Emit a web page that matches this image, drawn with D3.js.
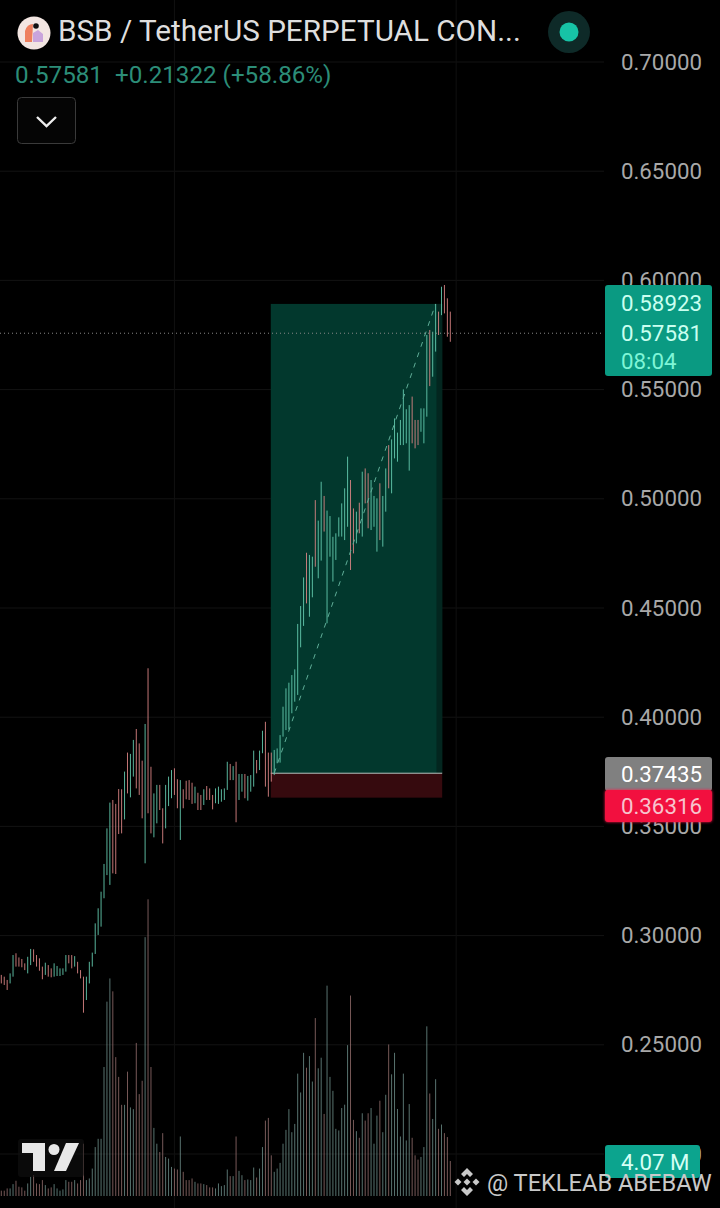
<!DOCTYPE html>
<html><head><meta charset="utf-8">
<script src="https://cdn.jsdelivr.net/npm/d3@7/dist/d3.min.js"></script>
<style>html,body{margin:0;padding:0;background:#000;overflow:hidden}svg{display:block}text{font-family:Roboto,sans-serif}</style>
</head><body><svg id="c" width="720" height="1208"></svg>
<script>
const priceTicks=[0.7,0.65,0.6,0.55,0.5,0.45,0.4,0.35,0.3,0.25,0.2];
const highs=[.2820,.2812,.2797,.2827,.2911,.2919,.2900,.2893,.2873,.2903,.2939,.2937,.2911,.2896,.2858,.2876,.2865,.2850,.2873,.2861,.2850,.2850,.2911,.2911,.2911,.2906,.2880,.2842,.2812,.2812,.2880,.2922,.3056,.3125,.3201,.3328,.3491,.3609,.3621,.3603,.3671,.3670,.3751,.3838,.3832,.3896,.3946,.3880,.3801,.3969,.4224,.3773,.3651,.3690,.3690,.3583,.3690,.3728,.3758,.3766,.3716,.3712,.3670,.3709,.3712,.3700,.3682,.3654,.3644,.3670,.3685,.3674,.3644,.3674,.3682,.3670,.3674,.3796,.3786,.3776,.3796,.3740,.3740,.3740,.3731,.3735,.3847,.3804,.3847,.3938,.3979,.3838,
.3838,.3850,.3857,.3918,.4048,.4132,.4158,.4193,.4219,.4427,.4509,.4640,.4753,.4743,.4735,.4994,.4900,.5078,.5013,.4946,.4921,.4826,.4842,.4915,.4979,.5048,.5193,.5086,.4956,.4941,.4982,.5124,.5139,.5117,.5086,.5013,.5002,.5071,.5013,.5139,.5246,.5272,.5368,.5303,.5361,.5501,.5410,.5429,.5468,.5361,.5361,.5414,.5414,.5750,.5773,.5765,.5892,.5857,.5971,.5979,.5918,.5857];
const lows=[.2781,.2774,.2751,.2781,.2812,.2858,.2858,.2855,.2842,.2827,.2865,.2880,.2858,.2839,.2800,.2820,.2812,.2809,.2812,.2815,.2815,.2820,.2835,.2873,.2850,.2858,.2827,.2804,.2647,.2705,.2781,.2858,.2916,.3003,.3041,.3171,.3277,.3232,.3285,.3282,.3465,.3468,.3532,.3651,.3633,.3728,.3674,.3644,.3537,.3331,.3560,.3468,.3450,.3514,.3575,.3422,.3491,.3593,.3629,.3644,.3583,.3438,.3583,.3624,.3621,.3603,.3606,.3575,.3575,.3598,.3621,.3621,.3578,.3606,.3603,.3613,.3621,.3667,.3712,.3712,.3519,.3621,.3659,.3629,.3618,.3659,.3682,.3743,.3758,.3835,.3682,.3636,
.3705,.3735,.3789,.3792,.3911,.3941,.3944,.4018,.4071,.4102,.4320,.4418,.4521,.4460,.4549,.4689,.4636,.4717,.4850,.4430,.4735,.4621,.4720,.4827,.4827,.4811,.4872,.4674,.4750,.4796,.4842,.4827,.4979,.4865,.4857,.4872,.4758,.4811,.4781,.4941,.5048,.5025,.5185,.5170,.5246,.5246,.5254,.5129,.5254,.5231,.5246,.5307,.5254,.5376,.5516,.5559,.5674,.5750,.5841,.5849,.5742,.5719];
const directions=("rrrgg"+"rrrrgg"+"rrrrgrrgg"+"ggg"+"rrgrrr"+"ggggggggg"+"rrrr"+"grggrrrgrr"+"gg"+"rrggg"+"rr"+"grrrrgrrgrrr"+"ggggg"+"rgrggrggg"+"rgg"+"r"+"r"+
"r"+"ggggggggggg"+"rg"+"gr"+"gg"+"rgggggggg"+"rrgrgrrgggrgg"+"rggggggg"+"rrr"+"gg"+"grggrgr"+"r").slice(0,154).split("");
const volumes=[.62,.62,.88,.88,1.38,1.77,1.08,1.0,.62,1.46,2.23,2.42,1.46,1.38,1.85,1.27,.88,1.0,1.38,.88,.62,.77,1.85,1.65,1.65,1.85,1.46,1.85,6.08,1.85,2.04,3.19,5.69,6.65,6.65,15.0,22.6,25.3,23.8,16.15,13.85,10.6,10.6,14.46,10.3,10.1,17.8,11.85,13.4,30.1,34.5,15.0,7.92,6.08,5.12,7.31,4.54,4.35,3.38,3.19,3.08,6.92,2.81,1.85,1.85,2.04,1.65,1.46,1.46,1.38,1.27,1.0,1.0,.88,1.46,1.15,1.27,3.08,2.31,2.31,6.92,2.92,
2.42,1.85,1.92,1.85,3.31,2.15,3.19,5.69,8.77,9.08,4.73,2.81,3.19,3.85,6.08,7.69,10.1,7.42,8.38,14.23,12.04,16.65,14.92,16.27,13.31,20.69,14.85,16.08,9.54,24.46,13.85,12.23,7.81,7.62,10.23,10.62,17.54,23.31,8.85,7.54,6.77,9.62,8.77,9.62,10.23,6.08,9.35,11.08,7.42,11.77,17.62,14.15,16.65,10.12,6.92,14.23,6.46,10.69,6.77,4.73,4.23,4.54,5.69,19.73,11.92,8.96,13.58,7.81,8.31,7.31,6.85,4.07];
const lastPrice=0.57581,targetPrice=0.58923,entryPrice=0.37435,stopPrice=0.36316,lastVolume=4.07;
const boxStart=92,boxEnd=150,lineStart=93,lineEnd=148;

const svg=d3.select("#c");
const defs=svg.append("defs");
defs.append("filter").attr("id","soft").attr("x","-5%").attr("y","-5%").attr("width","110%").attr("height","110%")
 .append("feGaussianBlur").attr("stdDeviation",0.35);
const glow=defs.append("filter").attr("id","glow").attr("x","-10%").attr("y","-30%").attr("width","120%").attr("height","160%");
glow.append("feGaussianBlur").attr("stdDeviation",1.6);
const x=d3.scaleLinear().domain([0,153]).range([1.3,450.3]);
const y=d3.scaleLinear().domain([0.7,0.2]).range([62,1154]);
const v=d3.scaleLinear().domain([0,lastVolume]).range([1196,1161]);

// grid
svg.append("g").selectAll("line").data(priceTicks).join("line")
 .attr("x1",0).attr("x2",604).attr("y1",d=>y(d)).attr("y2",d=>y(d)).attr("stroke","#131313");
svg.append("g").selectAll("line").data([59.0,155.0]).join("line")
 .attr("x1",d=>x(d)).attr("x2",d=>x(d)).attr("y1",0).attr("y2",1208).attr("stroke","#101010");

// position tool
const bx0=x(boxStart)-0.5,bx1=x(boxEnd)-0.5+1.2;
svg.append("rect").attr("x",bx0).attr("width",bx1-bx0).attr("y",y(targetPrice)).attr("height",y(entryPrice)-y(targetPrice)).attr("fill","#02382d");
svg.append("rect").attr("x",x(boxEnd)-5).attr("width",bx1-x(boxEnd)+5).attr("y",y(targetPrice)).attr("height",y(entryPrice)-y(targetPrice)).attr("fill","#03261f");
svg.append("rect").attr("x",bx0).attr("width",bx1-bx0).attr("y",y(entryPrice)).attr("height",y(stopPrice)-y(entryPrice)).attr("fill","#360a0e");
svg.append("line").attr("x1",bx0).attr("x2",bx1).attr("y1",y(entryPrice)).attr("y2",y(entryPrice)).attr("stroke","#b8c4c0").attr("stroke-width",1);

// volume
svg.append("g").attr("filter","url(#soft)").selectAll("line").data(volumes).join("line")
 .attr("x1",(d,i)=>x(i)).attr("x2",(d,i)=>x(i)).attr("y1",v(0)).attr("y2",d=>v(d))
 .attr("stroke",(d,i)=>directions[i]==="g"?"#6f908c":"#96706f").attr("stroke-width",0.8);

// candles
svg.append("g").attr("filter","url(#soft)").selectAll("line").data(highs).join("line")
 .attr("x1",(d,i)=>x(i)).attr("x2",(d,i)=>x(i)).attr("y1",d=>y(d)).attr("y2",(d,i)=>y(lows[i]))
 .attr("stroke",(d,i)=>directions[i]==="g"?"#63c9ae":"#d98383").attr("stroke-width",0.9);

// trend dashes and last price line
svg.append("line").attr("x1",x(lineStart)).attr("y1",y(entryPrice)).attr("x2",x(lineEnd)).attr("y2",y(targetPrice))
 .attr("stroke","#5fae98").attr("stroke-width",1).attr("stroke-dasharray","5 6");
svg.append("line").attr("x1",0).attr("x2",604).attr("y1",y(lastPrice)).attr("y2",y(lastPrice))
 .attr("stroke","#8a8a8a").attr("stroke-width",1).attr("stroke-dasharray","1 3");

// price axis
const axis=d3.axisRight(y).tickValues(priceTicks).tickFormat(d=>d.toFixed(5)).tickSize(0).tickPadding(0);
const ag=svg.append("g").attr("transform","translate(702,0)").call(axis);
ag.select(".domain").remove();
ag.selectAll("text").attr("text-anchor","end").attr("fill","#a8a8a8").style("font-size","22.3px").style("font-family","Roboto,sans-serif");

// header
const logo=svg.append("g");
logo.append("circle").attr("cx",34).attr("cy",33).attr("r",16.5).attr("fill","#f3e6e2");
logo.append("path").attr("d","M25 42 L25 31 Q27 24 33 24 L32 42 Z").attr("fill","#ee7f5e");
logo.append("path").attr("d","M33 42 L33 33 L38 30 L43 34 L43 42 Z").attr("fill","#c9a4dc");
logo.append("circle").attr("cx",36).attr("cy",26).attr("r",2.8).attr("fill","#111");
svg.append("text").attr("x",58).attr("y",41).attr("fill","#dedede").style("font-size","29.7px").text("BSB / TetherUS PERPETUAL CON...");
svg.append("circle").attr("cx",569).attr("cy",32).attr("r",21).attr("fill","#0e2a28");
svg.append("circle").attr("cx",569).attr("cy",32).attr("r",9.5).attr("fill","#17c3a6");
svg.append("text").attr("x",15).attr("y",83).attr("fill","#2c8d78").style("font-size","24.2px").attr("xml:space","preserve").text("0.57581  +0.21322 (+58.86%)");
svg.append("rect").attr("x",17.5).attr("y",97.5).attr("width",58).attr("height",46).attr("rx",4).attr("fill","#050505").attr("stroke","#3a3a3a");
svg.append("path").attr("d","M37 117 L46.5 126 L56 117").attr("fill","none").attr("stroke","#eee").attr("stroke-width",2.4);

// price labels
function label(bx,by,bw,bh,fill){return svg.append("rect").attr("x",bx).attr("y",by).attr("width",bw).attr("height",bh).attr("rx",3).attr("fill",fill);}
function txt(tx,ty,s,col,anchor){svg.append("text").attr("x",tx).attr("y",ty).attr("dy","0.36em").attr("text-anchor",anchor||"end").attr("fill",col).style("font-size","22.3px").text(s);}
label(605,285,107,91,"#0a9a82");
txt(702,y(targetPrice)-0.5,targetPrice.toFixed(5),"#c9fff0");
txt(702,y(lastPrice),lastPrice.toFixed(5),"#c9fff0");
txt(621,361,"08:04","#7ef5d6","start");
label(605,757,107,34,"#808080");
txt(702,y(entryPrice)+1,entryPrice.toFixed(5),"#ffffff");
label(605,790,107,32,"#ff1a4a").attr("filter","url(#glow)");
label(605,790,107,32,"#f2103f");
txt(702,y(stopPrice)+8.5,stopPrice.toFixed(5),"#f7c3cd");
label(605,1145,95,33,"#0ca48e");
txt(621,1162,lastVolume.toFixed(2)+" M","#d5fff4","start");

// TradingView mark
svg.append("rect").attr("x",18).attr("y",1139).attr("width",66).attr("height",38).attr("rx",3).attr("fill","#111").attr("opacity",.6);
const tv=svg.append("g").attr("fill","#e8e8e8");
tv.append("path").attr("d","M22 1143 H45 V1171 H33 V1153 H22 Z");
tv.append("circle").attr("cx",54).attr("cy",1149.5).attr("r",5.5);
tv.append("path").attr("d","M66 1143 H79 L66 1171 H54 Z");

// watermark
const wm=svg.append("g").attr("fill","#c9c9c9");
["M467 1168 L473 1174 L470 1177 L467 1174 L464 1177 L461 1174 Z","M467 1196 L473 1190 L470 1187 L467 1190 L464 1187 L461 1190 Z",
 "M467 1178.5 L470.5 1182 L467 1185.5 L463.5 1182 Z","M458 1178.5 L461.5 1182 L458 1185.5 L454.5 1182 Z","M476 1178.5 L479.5 1182 L476 1185.5 L472.5 1182 Z"]
 .forEach(d=>wm.append("path").attr("d",d));
svg.append("text").attr("x",487).attr("y",1191).attr("fill","#c9c9c9").style("font-size","23.6px").text("@ TEKLEAB ABEBAW");
</script></body></html>
